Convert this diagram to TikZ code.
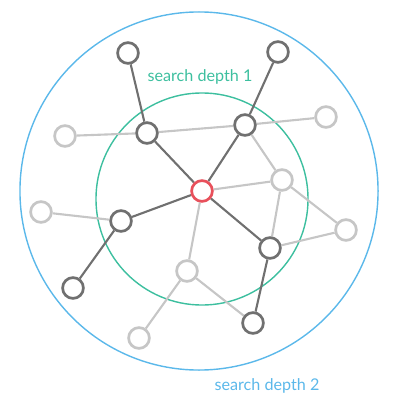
\documentclass[tikz,border=0pt]{standalone}
\usepackage{fontspec}
\setmainfont{Lato}
\usetikzlibrary{backgrounds}
\definecolor{hopone}{HTML}{3DBF9F}
\definecolor{hoptwo}{HTML}{5BB8EA}
\definecolor{seed}{HTML}{E8505B}
\definecolor{visited}{HTML}{707070}
\definecolor{unvisited}{HTML}{C6C6C6}

\begin{document}
\begin{tikzpicture}[x=0.025cm, y=-0.025cm,
		vtx/.style={circle, fill=white, line width=1.9pt, minimum size=0.52cm, inner sep=0pt},
		near/.style={vtx, draw=visited},
		far/.style={vtx, draw=unvisited},
		walk/.style={draw=visited, line width=1.5pt},
		skip/.style={draw=unvisited, line width=1.5pt},
		ringlabel/.style={font=\fontsize{11.5}{13}\selectfont}]
		\useasboundingbox (0,0) rectangle (400,400);
		% Start vertex
		\node[vtx, draw=seed] (root) at (202,191) {};
		% Vertices reached by the search
		\node[near] (a) at (147,133) {};
		\node[near] (b) at (245,125) {};
		\node[near] (c) at (121,221) {};
		\node[near] (d) at (270,248) {};
		\node[near] (a2) at (128,53) {};
		\node[near] (b2) at (278,52) {};
		\node[near] (c2) at (73,288) {};
		\node[near] (d2) at (253,323) {};
		% Vertices not reached
		\node[far] (l1) at (65,136) {};
		\node[far] (l2) at (326,117) {};
		\node[far] (l3) at (282,180) {};
		\node[far] (l4) at (41,212) {};
		\node[far] (l5) at (346,230) {};
		\node[far] (l6) at (187,271) {};
		\node[far] (l7) at (139,338) {};
		% Labels
		\node[ringlabel, text=hopone] (lbl1) at (200,77) {search depth 1};
		\node[ringlabel, text=hoptwo] (lbl2) at (267,386) {search depth 2};
		\begin{scope}[on background layer]
			% Depth rings
			\draw[hoptwo, line width=1pt] (199,191) circle[radius=4.475cm];
			\draw[hopone, line width=1pt] (202,199) circle[radius=2.65cm];
			% Edges
			\draw[skip] (l1) -- (a) -- (b) -- (l2);
			\draw[skip] (b) -- (l3) -- (l5) -- (d) -- (l3) -- (root);
			\draw[skip] (l4) -- (c);
			\draw[skip] (root) -- (l6) -- (l7);
			\draw[skip] (l6) -- (d2);
			\draw[walk] (a2) -- (a) -- (root) -- (b) -- (b2);
			\draw[walk] (c2) -- (c) -- (root) -- (d) -- (d2);
		\end{scope}
	\end{tikzpicture}
\end{document}
